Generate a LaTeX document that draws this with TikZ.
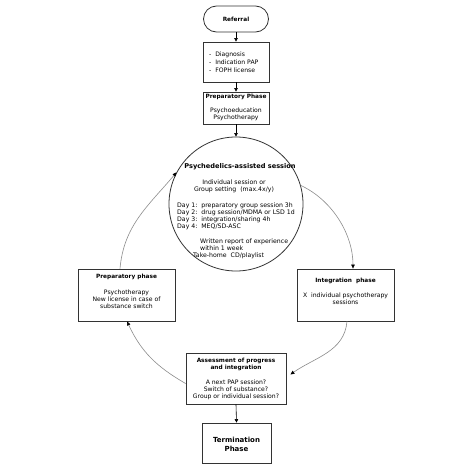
\documentclass[tikz,border=0pt]{standalone}
\usepackage{fontspec}
\setmainfont{DejaVu Sans}
\usetikzlibrary{arrows.meta,shapes.misc,calc}
\begin{document}
\begin{tikzpicture}[x=1pt,y=1pt,
  boxline/.style={draw=black!80,line width=0.8pt},
  box/.style={boxline,rectangle,inner sep=0pt},
  txt/.style={inner sep=0pt,align=center,font=\fontsize{6.1}{7.2}\selectfont},
  ttl/.style={txt,font=\fontsize{5.8}{7.2}\selectfont\bfseries},
  ctxt/.style={txt,font=\fontsize{6.2}{6.8}\selectfont},
  straight/.style={draw=black,line width=0.6pt,-{Triangle[length=3.5pt,width=3.5pt]}},
  cyc/.style={draw=black!45,line width=0.6pt,-{Triangle[length=4pt,width=3.5pt,black]}}
]
\useasboundingbox (0,0) rectangle (474,-474);
\fill[white] (0,0) rectangle (474,-474);

% top chain
\node[box,rounded rectangle,minimum width=65pt,minimum height=26pt] (ref) at (236,-19) {};
\node[ttl] (reft) at (236,-19) {Referral};

\node[box,minimum width=66pt,minimum height=40pt] (diag) at (236,-62) {};
\node[txt,align=left,anchor=west,font=\fontsize{6.1}{8}\selectfont] (diagt) at (209,-62) {-\ \ Diagnosis\\-\ \ Indication PAP\\-\ \ FOPH license};

\node[box,minimum width=66pt,minimum height=32pt] (prep1) at (236,-108) {};
\node[ttl] (prep1t) at (236,-97) {Preparatory Phase};
\node[txt] (prep1b) at (236,-114.5) {Psychoeducation\\Psychotherapy};

% circle
\node[boxline,circle,minimum size=134pt,inner sep=0pt] (circ) at (236,-204) {};
\node[ttl,font=\fontsize{6.6}{7}\selectfont\bfseries] (circt) at (240,-167) {Psychedelics-assisted session};
\node[ctxt] (circa) at (234,-186) {Individual session or\\Group setting\ \ (max.4x/y)};
\node[ctxt,align=left,anchor=west] (circb) at (177,-216.2) {Day 1:\ \ preparatory group session 3h\\Day 2:\ \ drug session/MDMA or LSD 1d\\Day 3:\ \ integration/sharing 4h\\Day 4:\ \ MEQ/SD-ASC};
\node[ctxt,align=left,anchor=west] (circc) at (193,-249) {\hspace*{7pt}Written report of experience\\\hspace*{7pt}within 1 week\\Take-home\ \ CD/playlist};

% side boxes
\node[box,minimum width=97pt,minimum height=52pt] (prep2) at (126.5,-295) {};
\node[ttl] (prep2t) at (126.5,-277) {Preparatory phase};
\node[txt] (prep2b) at (126.5,-299) {Psychotherapy\\New license in case of\\substance switch};

\node[box,minimum width=97pt,minimum height=52pt] (integ) at (345.5,-295) {};
\node[ttl] (integt) at (345.5,-281) {Integration\ \ phase};
\node[txt] (integb) at (345.5,-298.5) {X\ \ individual psychotherapy\\sessions};

\node[box,minimum width=100pt,minimum height=51pt] (assess) at (236,-378.5) {};
\node[ttl] (assesst) at (236,-364.5) {Assessment of progress\\and integration};
\node[txt] (assessb) at (236,-390) {A next PAP session?\\Switch of substance?\\Group or individual session?};

\node[box,minimum width=69pt,minimum height=40pt] (term) at (236.5,-443) {};
\node[ttl,font=\fontsize{7}{9}\selectfont\bfseries] (termt) at (236.5,-444.5) {Termination\\Phase};

% straight arrows
\draw[straight] (ref.south) -- (diag.north);
\draw[straight] (diag.south) -- (prep1.north);
\draw[straight] (prep1.south) -- (circ.north);
\draw[straight] (assess.south) -- (term.north);

% cycle
\coordinate (inttop) at ($(integ.north)+(7.5,0)$);
\coordinate (intbot) at ($(integ.south)+(1.5,0)$);
\coordinate (assr) at ($(assess.east)+(4,4)$);
\coordinate (assl) at ($(assess.west)+(0,-5)$);
\coordinate (prepbot) at ($(prep2.south)+(0.5,0)$);
\coordinate (preptop) at ($(prep2.north)+(-6.5,0)$);
\draw[cyc] (circ.16) to[out=-25,in=90,looseness=0.9] (inttop);
\draw[cyc] (intbot) to[out=-95,in=35,looseness=1.0] (assr);
\draw[cyc] (assl) to[out=150,in=-65,looseness=1.0] (prepbot);
\draw[cyc] (preptop) to[out=85,in=-130,looseness=1.0] (circ.152);
\end{tikzpicture}
\end{document}
